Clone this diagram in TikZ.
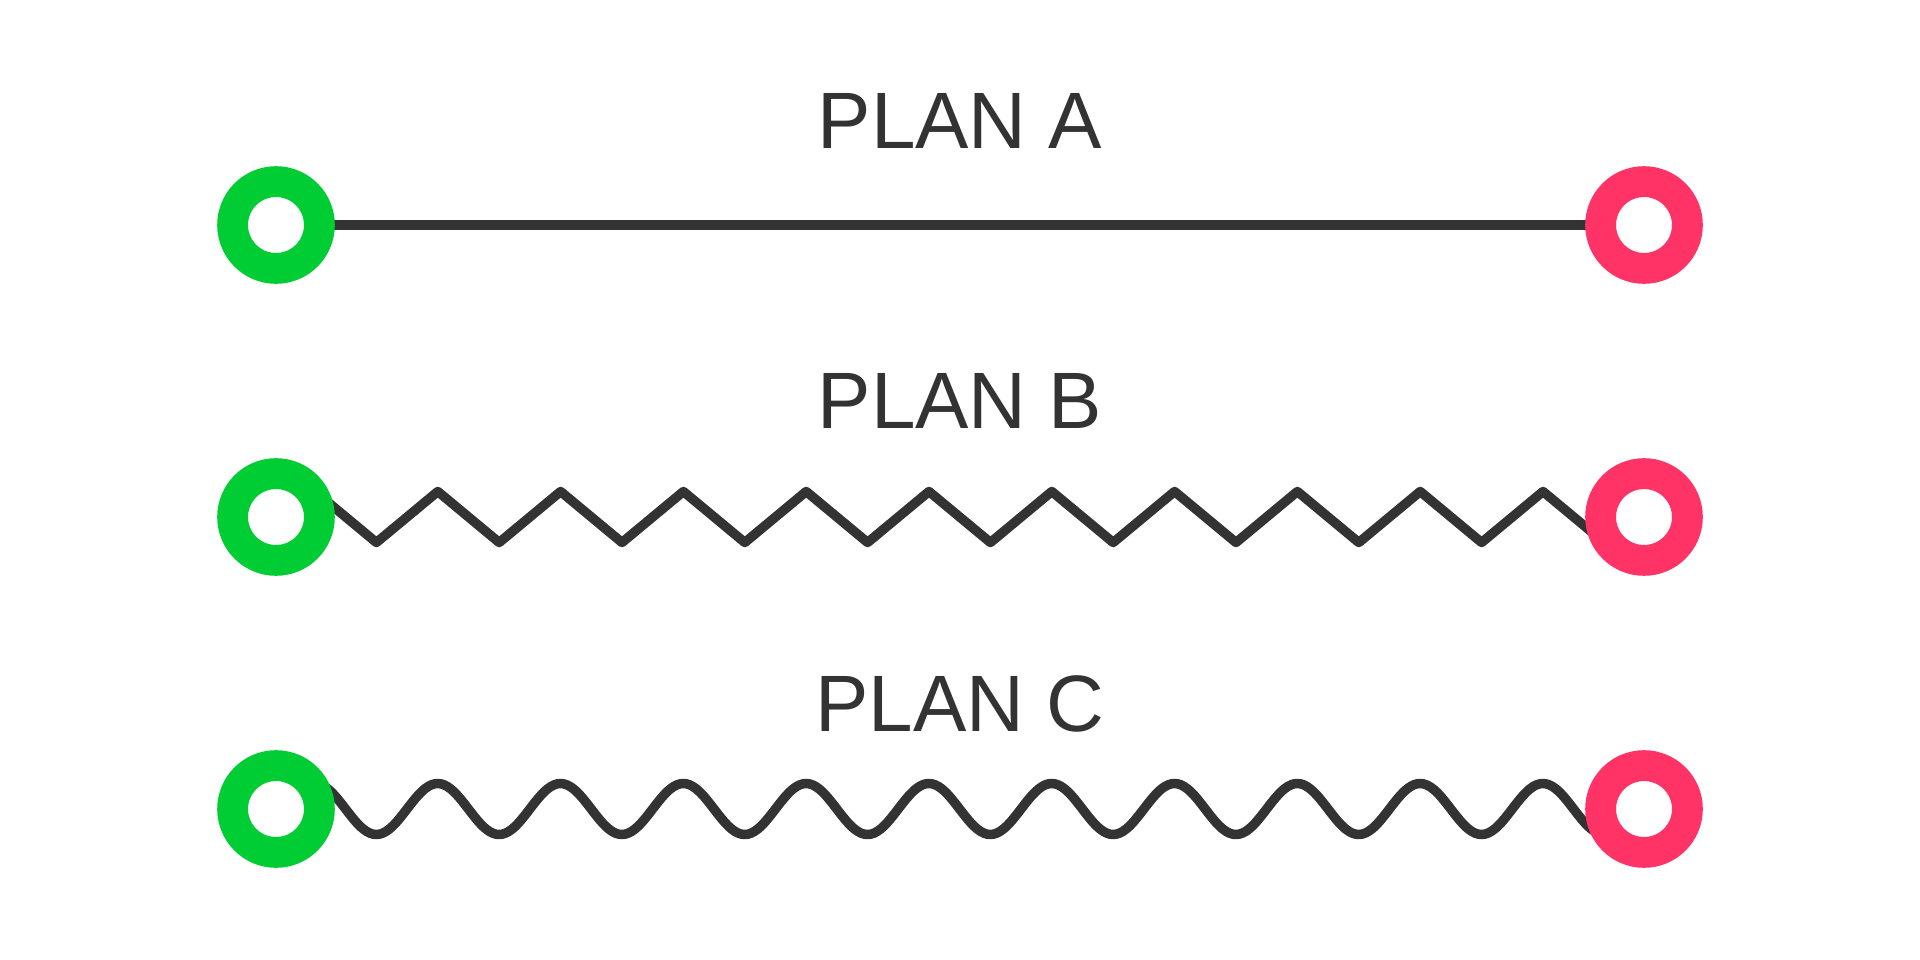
\documentclass[tikz,border=0pt]{standalone}
\usepackage{fontspec}
\setmainfont{Liberation Sans}
\usetikzlibrary{decorations.pathmorphing,backgrounds}
\definecolor{startgreen}{HTML}{00CC33}
\definecolor{endred}{HTML}{FF3366}
\definecolor{darkwire}{HTML}{333333}
\tikzset{
  endpoint/.style={circle, draw=#1, line width=30.8pt, fill=white,
    minimum size=86.8pt, inner sep=0pt},
  wire/.style={draw=darkwire, line width=9.5pt, line join=round},
  planlabel/.style={anchor=base, text=darkwire, font=\fontsize{80}{96}\selectfont},
}
\begin{document}
\begin{tikzpicture}[x=1pt, y=-1pt]
            \useasboundingbox (0,0) rectangle (1920,960);

            % Labels
            \node[planlabel] (labA) at (960,149) {PLAN A};
            \node[planlabel] (labB) at (960,428) {PLAN B};
            \node[planlabel] (labC) at (960,731) {PLAN C};

            % Draw start and end points
            \node[endpoint=startgreen] (aL) at (276,225) {};
            \node[endpoint=endred] (aR) at (1644,225) {};
            \node[endpoint=startgreen] (bL) at (276,517) {};
            \node[endpoint=endred] (bR) at (1644,517) {};
            \node[endpoint=startgreen] (cL) at (276,809) {};
            \node[endpoint=endred] (cR) at (1644,809) {};

            \begin{scope}[on background layer]
            % Straight line
            \draw[wire] (aL.center) -- (aR.center);

            % Zigzag line
            \draw[wire, decorate, decoration={zigzag, amplitude=25.5pt,
              segment length=122.8pt, pre=lineto, pre length=8.3pt}]
              (bL.center) -- (bR.center);

            % Wavy line (period 122.8)
            \draw[wire, shift={(cL.center)}]
              plot[domain=38.9:1328.7, samples=400, smooth]
              (\x, {25.5*cos(2.9316*(\x-100.3))});
            \end{scope}
        \end{tikzpicture}
\end{document}
